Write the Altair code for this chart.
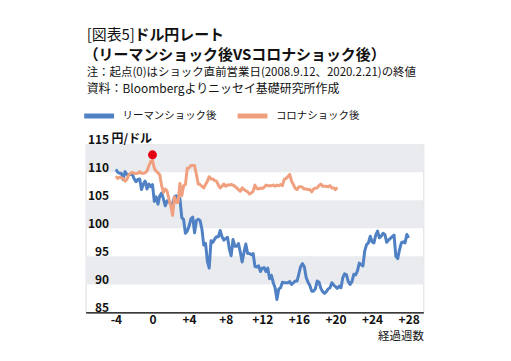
import altair as alt
import pandas as pd

# ---- data (USD/JPY, business days from shock; 0 = last business day before shock) ----
lehman_start = -20
lehman = [
    110.5, 110.0, 109.8, 109.8, 108.7, 110.1, 109.6, 109.6, 109.6, 109.6,
    108.8, 108.3, 108.7, 108.8, 106.9, 107.9, 108.4, 107.0, 107.9, 107.4,
    107.8,
    104.8, 105.6, 104.3, 105.8, 106.3, 105.2, 104.0, 104.9, 104.7, 104.5,
    104.1, 105.6, 105.8, 105.2, 105.3, 101.9, 101.6, 99.1, 99.5, 100.4,
    101.7, 102.0, 99.2, 101.4, 101.6, 101.4, 99.9, 97.0, 97.3, 94.1,
    92.9, 97.8, 97.5, 98.1, 98.5, 98.5, 99.6, 98.5, 97.9, 98.2,
    98.4, 96.3, 95.1, 98.0, 96.8, 96.8, 97.3, 95.7, 94.0, 95.7,
    97.2, 95.5, 95.5, 95.3, 95.5, 93.2, 93.1, 93.3, 92.3, 92.9,
    93.0, 92.3, 92.9, 91.0, 91.6, 90.3, 89.4, 87.3, 89.2, 89.4,
    90.4, 90.3, 90.3, 90.3, 90.5, 90.0, 90.3, 90.6, 90.6, 91.9,
    93.2, 93.7, 93.1, 91.2, 90.4, 89.8, 88.8, 88.8, 89.2, 90.6,
    90.4, 89.3, 88.7, 88.4, 88.7, 89.2, 89.4, 90.3, 89.9, 89.6,
    89.3, 89.7, 89.4, 91.2, 91.9, 91.7, 90.5, 90.0, 90.5, 91.8,
    91.7, 92.4, 93.8, 93.5, 93.3, 96.0, 97.1, 97.4, 98.6, 97.6,
    97.4, 98.8, 99.5, 98.3, 98.6, 99.1, 98.9, 97.5, 97.9, 98.2,
    98.5, 98.8, 95.0, 94.6, 96.2, 97.4, 97.6, 97.4, 98.9, 98.3,
]
corona_start = -20
corona = [
    109.3, 108.9, 109.1, 109.0, 108.9, 108.4, 108.7, 109.5, 109.8, 110.0,
    109.8, 109.75, 109.8, 110.1, 109.8, 109.8, 109.9, 110.2, 111.1, 111.9,
    112.1,
    110.7, 110.2, 109.9, 109.5, 107.6, 106.4, 107.0, 106.6, 105.2, 104.0,
    102.3, 105.6, 104.6, 104.6, 108.0, 105.8, 107.6, 107.8, 110.7, 110.8,
    111.2, 111.2, 111.2, 109.6, 107.9, 107.8, 107.5, 107.2, 107.8, 108.4,
    109.2, 108.8, 108.8, 108.5, 108.4, 107.7, 107.2, 107.5, 107.9, 107.5,
    107.7, 107.7, 107.8, 107.7, 107.5, 107.2, 106.9, 106.6, 107.2, 106.9,
    106.7, 106.5, 106.1, 106.3, 106.6, 107.7, 107.1, 107.0, 107.2, 107.1,
    107.3, 107.7, 107.6, 107.6, 107.6, 107.7, 107.5, 107.7, 107.6, 107.8,
    107.6, 108.7, 108.9, 109.2, 109.6, 108.4, 107.8, 107.1, 106.9, 107.4,
    107.4, 107.3, 107.0, 107.0, 106.9, 106.9, 106.5, 107.0, 107.2, 107.2,
    107.6, 107.9, 107.5, 107.5, 107.5, 107.4, 107.6, 107.2, 107.2, 106.9,
    107.3,
]
series_names = ["リーマンショック後", "コロナショック後"]
series_colors = ["#4f81c4", "#f0a07e"]

band_low = [90, 100, 110]
band_high = [95, 105, 115]

marker_day = [0]
marker_value = [113.1]

x_ticks = [-20, 0, 20, 40, 60, 80, 100, 120, 140]
y_ticks = [85, 90, 95, 100, 105, 110, 115]

title1a = "[図表5]"
title1b = "ドル円レート"
title2 = "（リーマンショック後VSコロナショック後）"
note1 = "注：起点(0)はショック直前営業日(2008.9.12、2020.2.21)の終値"
note2 = "資料：Bloombergよりニッセイ基礎研究所作成"
unit_label = "円/ドル"
x_title = "経過週数"

FONT = "Noto Sans CJK JP"
W, H = 339, 169

rows = []
for i, v in enumerate(lehman):
    rows.append({"day": lehman_start + i, "rate": v, "series": series_names[0]})
for i, v in enumerate(corona):
    rows.append({"day": corona_start + i, "rate": v, "series": series_names[1]})
df = pd.DataFrame(rows)

xscale = alt.Scale(domain=[-36.5, 148], nice=False, zero=False)
yscale = alt.Scale(domain=[85, 115], nice=False, zero=False)

y_axis = alt.Axis(
    values=y_ticks, grid=False, domain=False, ticks=False,
    labelAlign="right", labelPadding=-23, labelBaseline="alphabetic",
    labelFont=FONT, labelFontSize=12, labelFontWeight="bold",
    labelColor="#111111", title=None, labelOffset=-1,
    labelOverlap=False, labelBound=False, zindex=1,
)
x_axis = alt.Axis(
    values=x_ticks, grid=False, ticks=False, domainColor="#000000",
    domainWidth=1.2, labelOverlap=False, zindex=1,
    labelExpr="datum.value == 0 ? '0' : (datum.value < 0 ? '-' + (-datum.value/5) : '+' + (datum.value/5))",
    labelFont=FONT, labelFontSize=12, labelFontWeight="bold",
    labelColor="#111111", labelPadding=2,
    title=x_title, titleAnchor="end", titleAlign="right",
    titleFont=FONT, titleFontSize=11.5, titleFontWeight="normal",
    titleColor="#111111", titlePadding=5,
)

bands = alt.Chart(pd.DataFrame({"lo": band_low, "hi": band_high})).mark_rect(
    color="#e9ebee"
).encode(
    x=alt.value(0), x2=alt.value(W),
    y=alt.Y("lo:Q", scale=yscale, axis=y_axis),
    y2="hi:Q",
)

lines = alt.Chart(df).mark_line(strokeWidth=3, strokeJoin="round").encode(
    x=alt.X("day:Q", scale=xscale, axis=x_axis),
    y=alt.Y("rate:Q", scale=yscale, axis=y_axis),
    color=alt.Color("series:N", scale=alt.Scale(domain=series_names, range=series_colors),
                    legend=alt.Legend(
                        orient="none", legendX=-4, legendY=-46, direction="horizontal",
                        title=None, padding=0,
                        symbolType="stroke", symbolSize=900,
                        symbolStrokeWidth=5, symbolOpacity=1,
                        labelFont=FONT, labelFontSize=10.5, labelColor="#111111",
                        labelOffset=6, columnPadding=10,
                    )),
    order="day:Q",
)

marker = alt.Chart(pd.DataFrame({"day": marker_day, "rate": marker_value})).mark_point(
    shape="circle", filled=True, size=80, color="#e60012", opacity=1
).encode(x=alt.X("day:Q", scale=xscale, axis=x_axis),
         y=alt.Y("rate:Q", scale=yscale, axis=y_axis))

def txt(s, x, y, size, weight="normal", align="left", baseline="middle"):
    return alt.Chart(pd.DataFrame({"t": [s]})).mark_text(
        font=FONT, fontSize=size, fontWeight=weight, align=align,
        baseline=baseline, color="#111111"
    ).encode(text="t:N", x=alt.value(x), y=alt.value(y))

unit = alt.Chart(pd.DataFrame({"t": [unit_label], "v": [115]})).mark_text(
    font=FONT, fontSize=12, fontWeight="bold", align="left",
    baseline="alphabetic", color="#111111", dy=-1
).encode(text="t:N", x=alt.value(26), y=alt.Y("v:Q", scale=yscale, axis=y_axis))

texts = [
    txt(title1a, 1, -110, 15),
    txt(title1b, 49, -110, 15, "bold"),
    txt(title2, -2, -89, 15, "bold"),
    txt(note1, 1, -71, 11.5),
    txt(note2, 1, -55, 12),
]

chart = alt.layer(bands, lines, marker, unit, *texts).properties(
    width=W, height=H,
    autosize=alt.AutoSizeParams(type="none"),
    padding={"left": 78, "top": 136, "right": 80, "bottom": 40},
).configure_view(stroke=None).configure(background="white")

chart.save("out.html", embed_options={"renderer": "svg", "actions": False})
